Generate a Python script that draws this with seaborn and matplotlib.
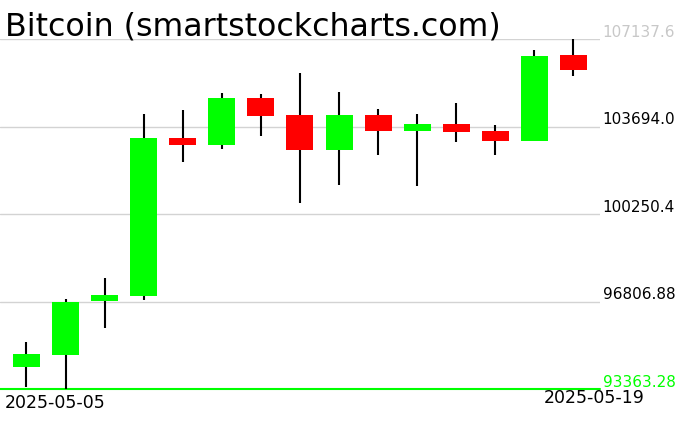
import matplotlib
matplotlib.use("Agg")
import matplotlib.pyplot as plt
import pandas as pd
import seaborn as sns

# Daily OHLC values
dates = ["2025-05-05", "2025-05-06", "2025-05-07", "2025-05-08", "2025-05-09",
         "2025-05-10", "2025-05-11", "2025-05-12", "2025-05-13", "2025-05-14",
         "2025-05-15", "2025-05-16", "2025-05-17", "2025-05-18", "2025-05-19"]
opens = [94241.1, 94713.3, 96826.7, 97035.3, 103241.6,
         102977.9, 104815.8, 104146.7, 102781.1, 104158.5,
         103528.8, 103792.5, 103517.0, 103135.3, 106508.0]
highs = [95213.1, 96893.6, 97731.9, 104186.1, 104355.3,
         105012.5, 104961.4, 105799.6, 105051.9, 104382.8,
         104197.9, 104619.0, 103753.2, 106716.6, 107137.68]
lows = [93454.0, 93363.28, 95775.9, 96877.9, 102308.8,
        102820.5, 103332.1, 100695.3, 101403.7, 102584.3,
        101364.3, 103095.9, 102584.3, 103111.7, 105693.4]
closes = [94740.9, 96787.3, 97062.8, 103229.8, 102977.9,
          104815.8, 104119.2, 102781.1, 104146.7, 103528.8,
          103792.5, 103489.5, 103135.3, 106456.9, 105929.5]

# Price levels on the right hand side (labels as far as they show)
levels = [93363.28, 96806.88, 100250.48, 103694.08, 107137.68]
level_labels = ["93363.28", "96806.88", "100250.4", "103694.0", "107137.6"]
level_colors = ["#00ff00", "black", "black", "black", "#c8c8c8"]

df = pd.DataFrame({"date": dates, "open": opens, "high": highs,
                   "low": lows, "close": closes})
df["x"] = range(len(df))
df["bottom"] = df[["open", "close"]].min(axis=1)
df["height"] = (df["close"] - df["open"]).abs()
df["color"] = ["#00ff00" if c >= o else "#ff0000" for o, c in zip(df["open"], df["close"])]

sns.set_theme(style="white")
plt.rcParams["font.family"] = ["DejaVu Sans"]

fig = plt.figure(figsize=(6.76, 4.31), dpi=100)
ax = fig.add_axes([0, 41 / 431, 600 / 676, 350 / 431])

# grid lines
for lv in levels[1:]:
    ax.axhline(lv, color="#d3d3d3", lw=1.0, zorder=1)
ax.axhline(levels[0], color="#00ff00", lw=1.5, zorder=1, clip_on=False)

# wicks and bodies
ax.vlines(df["x"], df["low"], df["high"], color="black", lw=1.5, zorder=2, clip_on=False)
ax.bar(df["x"], df["height"], bottom=df["bottom"], width=0.69,
       color=df["color"], linewidth=0, zorder=3, clip_on=False)

ax.set_xlim(-0.678, 14.68)
ax.set_ylim(levels[0], levels[-1])
sns.despine(ax=ax, left=True, bottom=True, right=True, top=True)
ax.set_xticks([])

ax.yaxis.tick_right()
ax.set_yticks(levels)
ax.set_yticklabels(level_labels)
ax.tick_params(axis="y", length=0, pad=2, labelsize=11)
for lab, col in zip(ax.get_yticklabels(), level_colors):
    lab.set_color(col)
    lab.set_verticalalignment("bottom")

# date labels
ax.text(5 / 600, -4 / 350, dates[0], transform=ax.transAxes,
        ha="left", va="top", fontsize=12.5, color="black")
ax.text(645 / 600, 1 / 350, dates[-1], transform=ax.transAxes,
        ha="right", va="top", fontsize=12.5, color="black")

fig.text(5 / 676, 1 - 12 / 431, "Bitcoin (smartstockcharts.com)",
         ha="left", va="top", fontsize=22.8, color="black", zorder=0)

fig.savefig("out.png", dpi=100)
